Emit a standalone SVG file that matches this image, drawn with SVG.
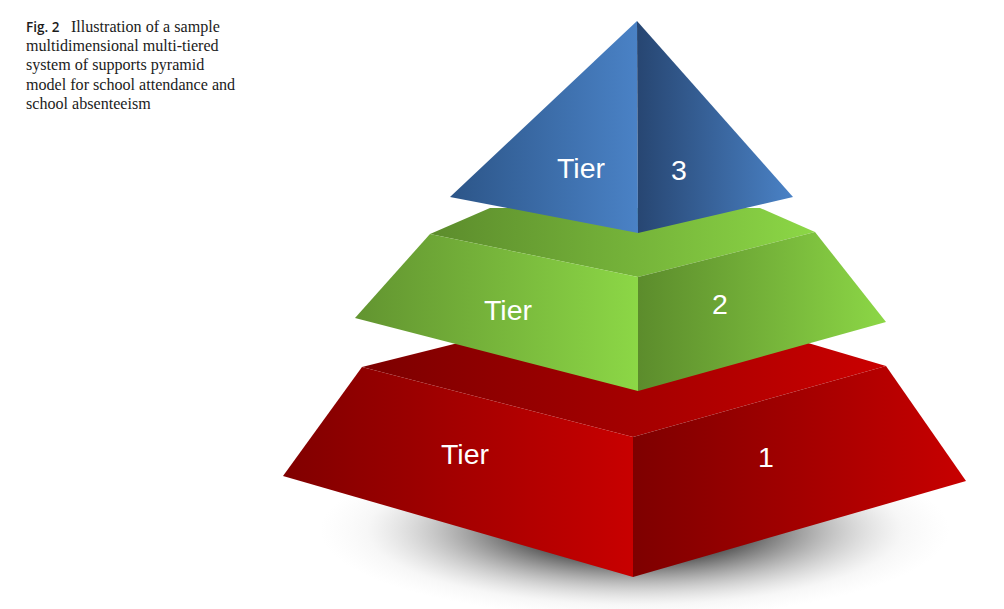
<svg xmlns="http://www.w3.org/2000/svg" width="1004" height="609" viewBox="0 0 1004 609">
<style>
.cap{font-family:"Liberation Serif",serif;font-size:16.1px;fill:#1c1c1c}
.fig{font-family:"Open Sans","Liberation Sans",sans-serif;font-size:13.5px;font-weight:600;fill:#1c1c1c}
.lbl{font-family:"Liberation Sans",Arial,sans-serif;font-size:28.5px;fill:#fff}
</style>
<defs>
<linearGradient id="rl" gradientUnits="userSpaceOnUse" x1="283" y1="0" x2="633" y2="0"><stop offset="0" stop-color="#800000"/><stop offset="1" stop-color="#c80000"/></linearGradient>
<linearGradient id="rr" gradientUnits="userSpaceOnUse" x1="633" y1="0" x2="966" y2="0"><stop offset="0" stop-color="#7e0000"/><stop offset="1" stop-color="#c80000"/></linearGradient>
<linearGradient id="rt" gradientUnits="userSpaceOnUse" x1="362" y1="0" x2="886" y2="0"><stop offset="0" stop-color="#7c0000"/><stop offset="1" stop-color="#ca0000"/></linearGradient>
<linearGradient id="gl" gradientUnits="userSpaceOnUse" x1="355" y1="0" x2="638" y2="0"><stop offset="0" stop-color="#629430"/><stop offset="1" stop-color="#8cd746"/></linearGradient>
<linearGradient id="gr" gradientUnits="userSpaceOnUse" x1="638" y1="0" x2="886" y2="0"><stop offset="0" stop-color="#5c8c2c"/><stop offset="1" stop-color="#8cd746"/></linearGradient>
<linearGradient id="gt" gradientUnits="userSpaceOnUse" x1="430" y1="0" x2="815" y2="0"><stop offset="0" stop-color="#5c8c2c"/><stop offset="1" stop-color="#8cd746"/></linearGradient>
<linearGradient id="bl" gradientUnits="userSpaceOnUse" x1="450" y1="0" x2="638" y2="0"><stop offset="0" stop-color="#2c5588"/><stop offset="1" stop-color="#4a82c6"/></linearGradient>
<linearGradient id="br" gradientUnits="userSpaceOnUse" x1="638" y1="0" x2="793" y2="0"><stop offset="0" stop-color="#274672"/><stop offset="1" stop-color="#4a82c6"/></linearGradient>
<radialGradient id="sh" cx="0.5" cy="0.5" r="0.5"><stop offset="0" stop-color="#000" stop-opacity=".95"/><stop offset=".35" stop-color="#111" stop-opacity=".72"/><stop offset=".62" stop-color="#555" stop-opacity=".36"/><stop offset=".85" stop-color="#999" stop-opacity=".08"/><stop offset="1" stop-color="#bbb" stop-opacity="0"/></radialGradient>
</defs>
<rect width="1004" height="609" fill="#fff"/>
<g id="caption">
<text x="26" y="32" class="fig">Fig. 2</text>
<text x="71" y="32" class="cap">Illustration of a sample</text>
<text x="26" y="51" class="cap">multidimensional multi-tiered</text>
<text x="26" y="70" class="cap">system of supports pyramid</text>
<text x="26" y="90" class="cap">model for school attendance and</text>
<text x="26" y="109" class="cap">school absenteeism</text>
</g>
<ellipse id="shadow" cx="635" cy="530" rx="315" ry="88" fill="url(#sh)"/>
<g id="tier1">
<polygon points="362,367 458,343 808,343 886,366 633,437" fill="url(#rt)"/>
<polygon points="362,367 633,437 633,577 283,476" fill="url(#rl)"/>
<polygon points="633,437 886,366 966,481 633,577" fill="url(#rr)"/>
<text x="441" y="464" class="lbl">Tier</text>
<text x="758" y="467" class="lbl">1</text>
</g>
<g id="tier2">
<polygon points="430,234 490,208 760,208 815,232 638,277" fill="url(#gt)"/>
<polygon points="430,234 638,277 638,391 355,318" fill="url(#gl)"/>
<polygon points="638,277 815,232 886,322 638,391" fill="url(#gr)"/>
<text x="484" y="320" class="lbl">Tier</text>
<text x="712" y="314" class="lbl">2</text>
</g>
<g id="tier3">
<polygon points="637,21 638,233 450,197" fill="url(#bl)"/>
<polygon points="637,21 793,197 638,233" fill="url(#br)"/>
<text x="557" y="178" class="lbl">Tier</text>
<text x="671" y="180" class="lbl">3</text>
</g>
<g id="connectors"></g>
</svg>
